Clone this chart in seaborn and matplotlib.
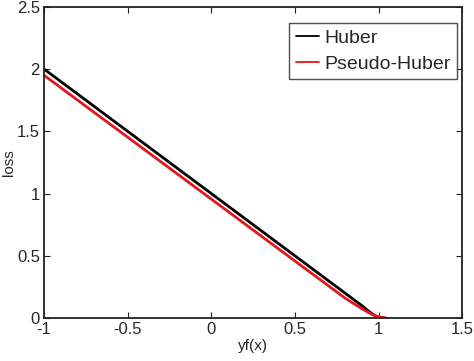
import pandas as pd
import matplotlib
matplotlib.use("Agg")
import matplotlib.pyplot as plt
import seaborn as sns

# values
huber_x = [-1.0, 0.80, 0.90, 0.95, 1.00]
huber_y = [2.00, 0.20, 0.10, 0.045, 0.0]
pseudo_x = [-1.0, 0.80, 0.90, 0.96, 1.00, 1.05]
pseudo_y = [1.95, 0.16, 0.075, 0.03, 0.01, 0.0]

df = pd.concat([
    pd.DataFrame({"yf(x)": huber_x, "loss": huber_y, "name": "Huber"}),
    pd.DataFrame({"yf(x)": pseudo_x, "loss": pseudo_y, "name": "Pseudo-Huber"}),
])

sns.set_style("ticks")
plt.rcParams["font.family"] = ["Liberation Sans", "DejaVu Sans"]

fig = plt.figure(figsize=(4.74, 3.61), dpi=100)
ax = fig.add_axes([0.093, 0.119, 0.882, 0.862])

sns.lineplot(data=df, x="yf(x)", y="loss", hue="name", sort=False,
             palette={"Huber": "black", "Pseudo-Huber": "#e8141b"},
             linewidth=2, ax=ax, estimator=None)

ax.set_xlim(-1, 1.5)
ax.set_ylim(0, 2.5)
ax.set_xticks([-1, -0.5, 0, 0.5, 1, 1.5])
ax.set_xticklabels(["-1", "-0.5", "0", "0.5", "1", "1.5"])
ax.set_yticks([0, 0.5, 1, 1.5, 2, 2.5])
ax.set_yticklabels(["0", "0.5", "1", "1.5", "2", "2.5"])
ax.tick_params(direction="in", top=True, right=True, labelsize=12, length=4,
               width=0.8, color="#222222", pad=3)
for s in ax.spines.values():
    s.set_visible(True)
    s.set_linewidth(1.3)
    s.set_color("#222222")
ax.set_xlabel("yf(x)", fontsize=11, labelpad=1)
ax.set_ylabel("loss", fontsize=11)
ax.yaxis.set_label_coords(-0.068, 0.5)

leg = ax.legend(loc="upper right", fontsize=14, frameon=True, fancybox=False,
                handlelength=1.2, handletextpad=0.25, borderpad=0.35,
                labelspacing=0.4, borderaxespad=0,
                bbox_to_anchor=(0.988, 0.949))
leg.get_frame().set_edgecolor("#222222")
leg.get_frame().set_linewidth(1.0)
leg.set_title(None)
for h in leg.get_lines():
    h.set_linewidth(1.3)

fig.savefig("out.png", dpi=100)
